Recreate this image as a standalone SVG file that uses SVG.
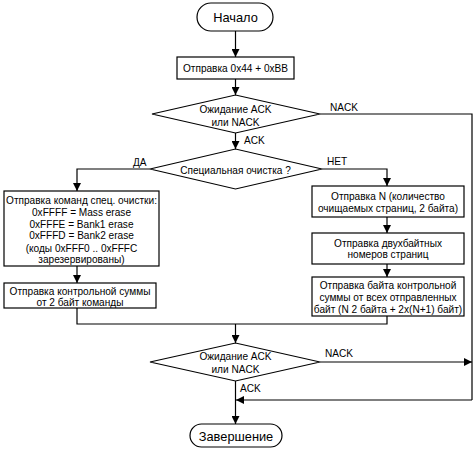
<svg xmlns="http://www.w3.org/2000/svg" width="474" height="452" viewBox="0 0 474 452">
<defs>
<marker id="ah" viewBox="0 0 10 10" refX="10" refY="5" markerWidth="8" markerHeight="8" markerUnits="userSpaceOnUse" orient="auto">
<path d="M0,0 L10,5 L0,10 z" fill="#000"/>
</marker>
<style>
.s{fill:#fff;stroke:#000;stroke-width:1.2}
.c{fill:none;stroke:#000;stroke-width:1.2}
.a{marker-end:url(#ah)}
text{font-family:"Liberation Sans",Arial,sans-serif;font-size:10.1px;fill:#000}
.m{text-anchor:middle}
.b{font-size:12.8px}
</style>
</defs>
<rect width="474" height="452" fill="#fff"/>
<g id="connectors">
<path class="c a" d="M235.5,31 V57"/>
<path class="c a" d="M235.5,79 V95"/>
<path class="c a" d="M235.5,133 V149"/>
<path class="c" d="M320,114 H472 V400"/>
<path class="c a" d="M472,400 H236"/>
<path class="c a" d="M150,169 H77 V191"/>
<path class="c a" d="M77,266 V283"/>
<path class="c a" d="M322,169 H387 V186"/>
<path class="c a" d="M387,217 V233"/>
<path class="c a" d="M387,264 V277"/>
<path class="c" d="M77,308 V324 H387 V316"/>
<path class="c a" d="M235.5,324 V343"/>
<path class="c a" d="M320,362 H472"/>
<path class="c a" d="M235.5,381 V424"/>
<text x="330" y="111">NACK</text>
<text x="244" y="144">ACK</text>
<text x="133" y="166">ДА</text>
<text x="327" y="165">НЕТ</text>
<text x="325" y="357">NACK</text>
<text x="240" y="392">ACK</text>
</g>
<g id="start">
<rect class="s" x="197" y="3" width="76" height="28" rx="14"/>
<text class="m b" x="235.5" y="21.5">Начало</text>
</g>
<g id="send44">
<rect class="s" x="177" y="57" width="117" height="22"/>
<text class="m" x="235.5" y="71.5">Отправка 0x44 + 0xBB</text>
</g>
<g id="wait1">
<polygon class="s" points="152,114 235.5,95 320,114 235.5,133"/>
<text class="m" x="235.5" y="112.5">Ожидание ACK</text>
<text class="m" x="235.5" y="125.5">или NACK</text>
</g>
<g id="special">
<polygon class="s" points="150,169 235.5,149 322,169 235.5,189"/>
<text class="m" x="235.5" y="173.5">Специальная очистка ?</text>
</g>
<g id="leftbox1">
<rect class="s" x="4" y="191" width="155" height="75"/>
<text class="m" x="81.5" y="204">Отправка команд спец. очистки:</text>
<text class="m" x="81.5" y="216">0xFFFF = Mass erase</text>
<text class="m" x="81.5" y="228">0xFFFE = Bank1 erase</text>
<text class="m" x="81.5" y="239">0xFFFD = Bank2 erase</text>
<text class="m" x="81.5" y="251.5">(коды 0xFFF0 .. 0xFFFC</text>
<text class="m" x="81.5" y="263">зарезервированы)</text>
</g>
<g id="leftbox2">
<rect class="s" x="4" y="283" width="152" height="25"/>
<text class="m" x="80" y="295">Отправка контрольной суммы</text>
<text class="m" x="80" y="306">от 2 байт команды</text>
</g>
<g id="rightbox1">
<rect class="s" x="312" y="186" width="152" height="31"/>
<text class="m" x="388" y="199.5">Отправка N (количество</text>
<text class="m" x="388" y="211.5">очищаемых страниц, 2 байта)</text>
</g>
<g id="rightbox2">
<rect class="s" x="312" y="233" width="152" height="31"/>
<text class="m" x="388" y="246.5">Отправка двухбайтных</text>
<text class="m" x="388" y="258">номеров страниц</text>
</g>
<g id="rightbox3">
<rect class="s" x="312" y="277" width="152" height="39"/>
<text class="m" x="388" y="289">Отправка байта контрольной</text>
<text class="m" x="388" y="301">суммы от всех отправленных</text>
<text class="m" x="388" y="312.5">байт (N 2 байта + 2x(N+1) байт)</text>
</g>
<g id="wait2">
<polygon class="s" points="150,362 235.5,343 320,362 235.5,381"/>
<text class="m" x="235.5" y="359.5">Ожидание ACK</text>
<text class="m" x="235.5" y="372.5">или NACK</text>
</g>
<g id="end">
<rect class="s" x="190" y="424" width="92" height="23" rx="11.5"/>
<text class="m b" x="236" y="440.5">Завершение</text>
</g>
</svg>
